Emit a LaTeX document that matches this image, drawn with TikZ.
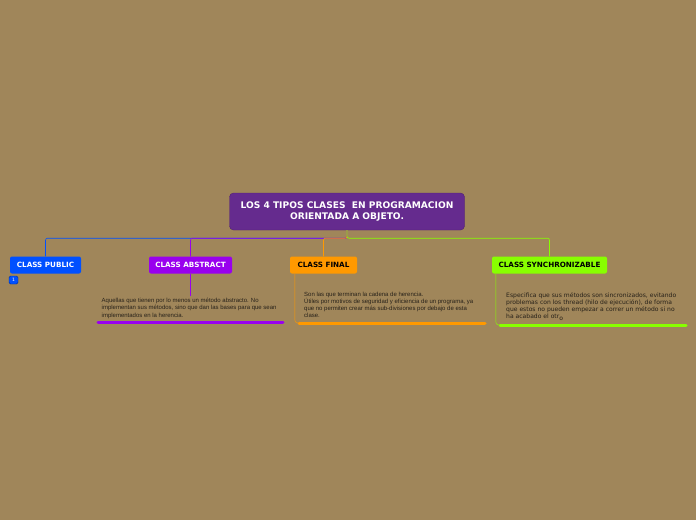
\documentclass[tikz,border=0pt]{standalone}
\usepackage{fontspec}
\setmainfont{DejaVu Sans}
\newfontfamily\descfont{Liberation Sans}
\definecolor{bgbrown}{RGB}{160,134,90}
\definecolor{rootpurple}{RGB}{101,43,142}
\definecolor{pubblue}{RGB}{0,80,255}
\definecolor{abspurple}{RGB}{153,0,238}
\definecolor{finorange}{RGB}{255,153,0}
\definecolor{syngreen}{RGB}{136,255,0}
\definecolor{desctext}{RGB}{40,34,26}

\begin{document}
\begin{tikzpicture}[x = 1pt, y = -1pt,
		rootbox/.style = {fill = rootpurple, draw = rootpurple!80!black, rounded corners = 4, minimum width = 235, minimum height = 37, align = center, text = white, font = \bfseries\fontsize{9.1}{11}\selectfont},
		classbox/.style = {rounded corners = 2, minimum height = 17, inner xsep = 4, font = \bfseries\fontsize{7.2}{8}\selectfont},
		desc/.style = {anchor = north west, inner sep = 0, align = left, text = desctext},
		branch/.style = {semithick, rounded corners = 2},
		underline/.style = {line width = 3, line cap = round}]
		\fill [bgbrown] (0,0) rectangle (696,520);
		\useasboundingbox (0,0) rectangle (696,520);

		\node (root) at (347,211.5) [rootbox] {\raisebox{-1.5pt}{\shortstack{LOS 4 TIPOS CLASES \ EN PROGRAMACION\\[1pt]ORIENTADA A OBJETO.}}};

		\node (public) at (45.5,265) [classbox, fill = pubblue, text = white, minimum width = 71] {CLASS PUBLIC};
		\node (abstract) at (190.5,265) [classbox, fill = abspurple, text = white, minimum width = 83] {CLASS ABSTRACT};
		\node (final) at (323.5,265) [classbox, fill = finorange, text = black, minimum width = 67] {CLASS FINAL};
		\node (sync) at (549.5,265) [classbox, fill = syngreen, text = black, minimum width = 115] {CLASS SYNCHRONIZABLE};

		\node (badge) at (13.5,280) [fill = pubblue, draw = pubblue!60!black, rounded corners = 1.5, minimum width = 9, minimum height = 8, inner sep = 0, text = white, font = \fontsize{4.5}{4.5}\selectfont] {1};

		\draw [branch, pubblue] (root.south) -- ++(0,8) -| (public.north);
		\draw [branch, abspurple] (root.south) -- ++(0,8) -| (abstract.north);
		\draw [branch, finorange] (root.south) -- ++(0,8) -| (final.north);
		\draw [branch, syngreen] (root.south) -- ++(0,8) -| (sync.north);

		% abstract
		\coordinate (absdesctop) at (190.5,296);
		\node (absdesc) at (101.5,297.5) [desc, font = \descfont\fontsize{6}{7.5}\selectfont] {Aquellas que tienen por lo menos un método abstracto. No\\implementan sus métodos, sino que dan las bases para que sean\\implementados en la herencia.};
		\coordinate (absL) at (98,322.5);
		\coordinate (absR) at (283,322.5);
		\draw [thin, abspurple] (abstract.south) -- (absdesctop);
		\draw [underline, abspurple] (absL) -- (absR);

		% final
		\node (findesc) at (304,291.5) [desc, font = \descfont\fontsize{6}{7.2}\selectfont] {Son las que terminan la cadena de herencia.\\Útiles por motivos de seguridad y eficiencia de un programa, ya\\que no permiten crear más sub-divisiones por debajo de esta\\clase.};
		\coordinate (finL) at (299,323);
		\coordinate (finR) at (485,323);
		\draw [thin, finorange, rounded corners = 3] ([xshift = 5]final.south west) |- (finL);
		\draw [underline, finorange] (finL) -- (finR);

		% synchronizable
		\node (syndesc) at (506,292) [desc, font = \fontsize{6.05}{7.3}\selectfont] {Especifica que sus métodos son sincronizados, evitando\\problemas con los thread (hilo de ejecución), de forma\\que estos no pueden empezar a correr un método si no\\ha acabado el otr\raisebox{-1.2pt}{o}};
		\coordinate (synL) at (500,325);
		\coordinate (synR) at (686,325);
		\draw [thin, syngreen, rounded corners = 3] ([xshift = 4]sync.south west) |- (synL);
		\draw [underline, syngreen] (synL) -- (synR);
		\end{tikzpicture}
\end{document}
